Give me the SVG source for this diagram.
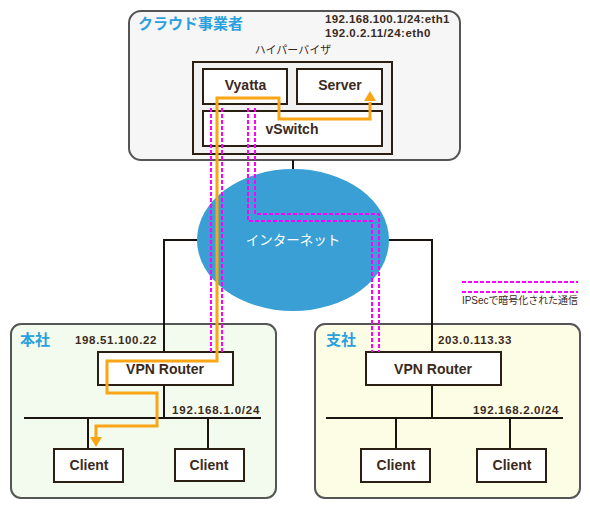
<svg xmlns="http://www.w3.org/2000/svg" width="590" height="510" viewBox="0 0 590 510">
<defs>
<style>
.t{font-family:"Liberation Sans","Noto Sans CJK JP",sans-serif;fill:#3b2a1c}
.b{font-weight:bold}
.ip4{font-size:11.5px;font-weight:bold;letter-spacing:0.5px}
.nd{font-size:14px;font-weight:bold}
.area{stroke:#555;stroke-width:2}
.box{fill:#fff;stroke:#2b1f14;stroke-width:2}
.ln{stroke:#1a1410;stroke-width:2;fill:none}
.ip{stroke:#ff00ff;stroke-width:2;stroke-dasharray:4 2;fill:none}
.or{stroke:#f9a515;stroke-width:3;fill:none}
.lbl{font-family:"Liberation Sans","Noto Sans CJK JP",sans-serif;fill:#2aa0dc;font-weight:bold;font-size:15px}
</style>
</defs>
<rect width="590" height="510" fill="#fff"/>

<g id="cloud-provider">
<rect class="area" x="129" y="11" width="331" height="149" rx="12" fill="#f6f6f6"/>
<text class="lbl" x="138" y="29" font-size="16">クラウド事業者</text>
<text class="t ip4" x="325" y="23" textLength="125">192.168.100.1/24:eth1</text>
<text class="t ip4" x="325" y="37" textLength="106">192.0.2.11/24:eth0</text>
<text class="t" x="293" y="54" font-size="11" text-anchor="middle">ハイパーバイザ</text>
</g>
<g id="hypervisor">
<rect x="193" y="62" width="199" height="92" fill="#f2f2f2" stroke="#2b1f14" stroke-width="2"/>
</g>
<g id="vyatta">
<rect class="box" x="203" y="69" width="84" height="35"/>
<text class="t nd" x="245.5" y="90" font-size="14.5" text-anchor="middle">Vyatta</text>
</g>
<g id="server">
<rect class="box" x="297" y="69" width="85" height="35"/>
<text class="t nd" x="340" y="90" font-size="14.5" text-anchor="middle">Server</text>
</g>
<g id="vswitch">
<rect class="box" x="203" y="111" width="179" height="35"/>
<text class="t nd" x="292" y="134" font-size="14.5" text-anchor="middle">vSwitch</text>
</g>

<g id="honsha">
<rect class="area" x="11" y="324" width="265" height="174" rx="10" fill="#f3fbef"/>
<text class="lbl" x="20" y="345">本社</text>
<text class="t ip4" x="75" y="344" textLength="82">198.51.100.22</text>
<text class="t ip4" x="172" y="414" textLength="88">192.168.1.0/24</text>
</g>
<g id="shisha">
<rect class="area" x="315" y="324" width="265" height="174" rx="10" fill="#fdfde6"/>
<text class="lbl" x="326" y="345">支社</text>
<text class="t ip4" x="438" y="344" textLength="74">203.0.113.33</text>
<text class="t ip4" x="473" y="414" textLength="86">192.168.2.0/24</text>
</g>

<g id="connectors">
<path class="ln" d="M293,160 V170"/>
<path class="ln" d="M198,240 H164 V352"/>
<path class="ln" d="M388,240 H432 V352"/>
<path class="ln" d="M164,385 V418 M24,418 H261 M88,418 V449 M208,418 V449"/>
<path class="ln" d="M432,385 V418 M326,418 H563 M396,418 V449 M510,418 V449"/>
</g>

<g id="internet">
<ellipse cx="293" cy="240" rx="96" ry="71" fill="#3a9fd4"/>
<text x="293" y="245" font-size="13.5" text-anchor="middle" fill="#fff" font-family="'Noto Sans CJK JP',sans-serif">インターネット</text>
</g>

<g id="router-honsha">
<rect class="box" x="98" y="352" width="135" height="33"/>
<text class="t nd" x="165" y="374" text-anchor="middle">VPN Router</text>
</g>
<g id="client-h1">
<rect class="box" x="54" y="449" width="69" height="33"/>
<text class="t nd" x="89" y="470" text-anchor="middle">Client</text>
</g>
<g id="client-h2">
<rect class="box" x="175" y="449" width="69" height="32"/>
<text class="t nd" x="209" y="470" text-anchor="middle">Client</text>
</g>
<g id="router-shisha">
<rect class="box" x="366" y="352" width="135" height="33"/>
<text class="t nd" x="433" y="374" text-anchor="middle">VPN Router</text>
</g>
<g id="client-s1">
<rect class="box" x="361" y="449" width="69" height="33"/>
<text class="t nd" x="396" y="470" text-anchor="middle">Client</text>
</g>
<g id="client-s2">
<rect class="box" x="477" y="449" width="69" height="33"/>
<text class="t nd" x="512" y="470" text-anchor="middle">Client</text>
</g>

<g id="tunnels">
<path class="ip" d="M211,108 V352"/>
<path class="ip" d="M222,108 V352"/>
<path class="ip" d="M255,108 V214 H379 V352"/>
<path class="ip" d="M248,108 V221 H372 V352"/>
<path class="or" d="M370,102 V119 H279 V98 H217 V361 H107 V393 H157 V426 H96 V438"/>
<path d="M364,101 L370,91 L376,101 z" fill="#f9a515"/>
<path d="M90,437 L96,447 L102,437 z" fill="#f9a515"/>
</g>

<g id="legend">
<path class="ip" d="M462,282 H578"/>
<path class="ip" d="M462,292 H578"/>
<text class="t" x="462" y="304" font-size="10" textLength="116">IPSecで暗号化された通信</text>
</g>
</svg>
